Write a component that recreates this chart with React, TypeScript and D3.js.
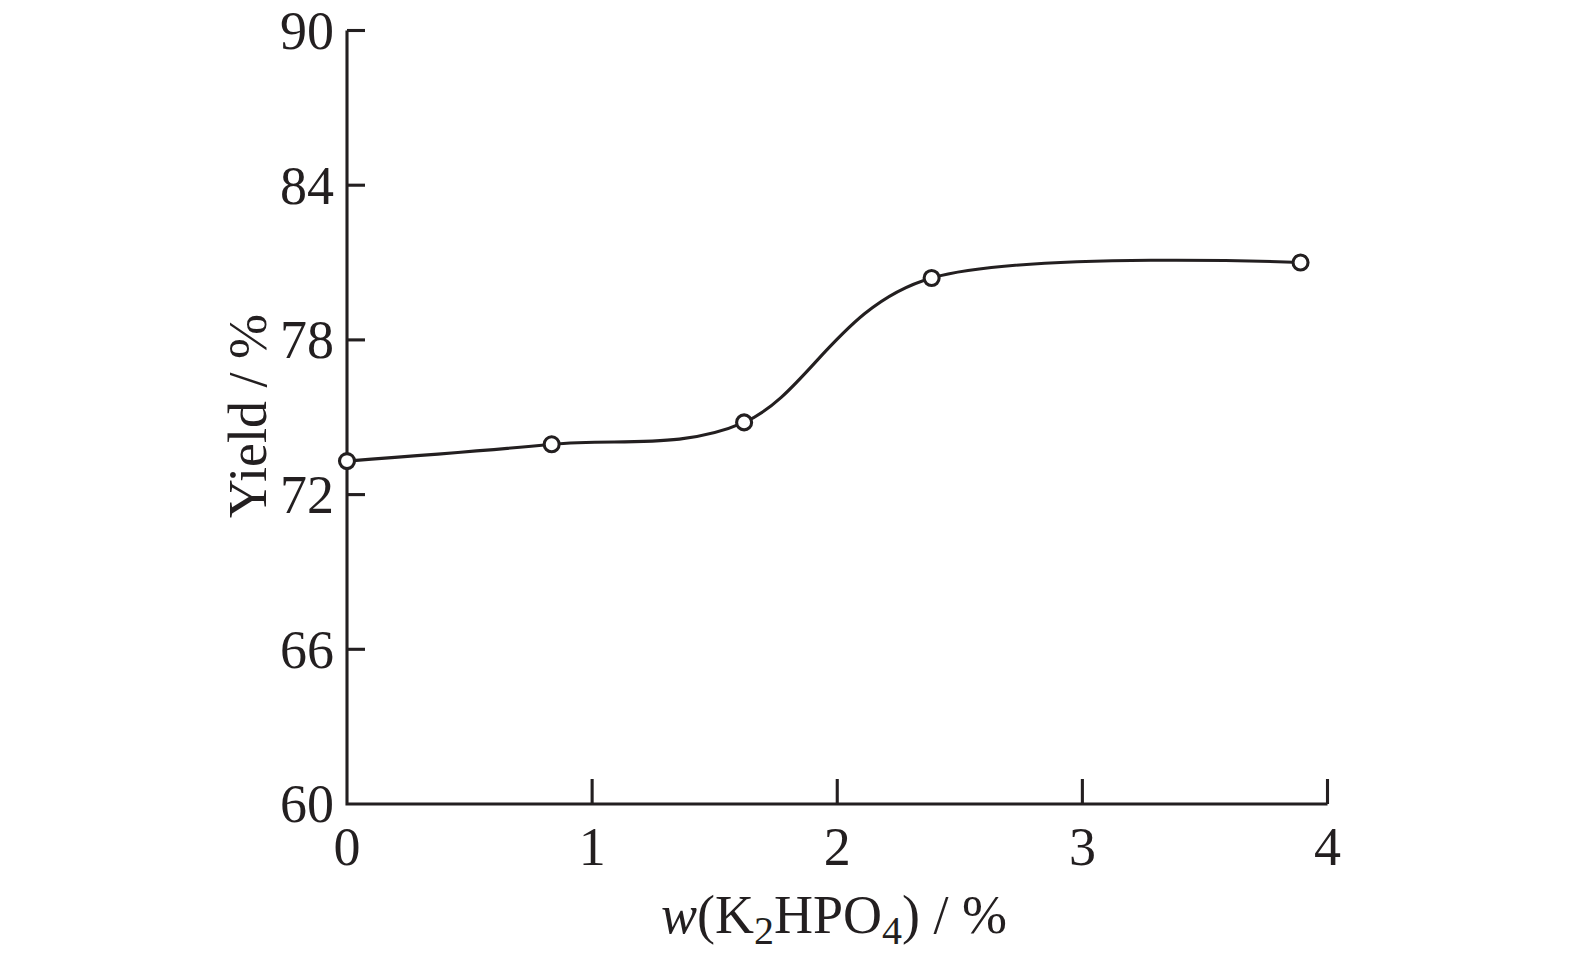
import { useEffect, useRef } from 'react'
import * as d3 from 'd3'

// K2HPO4 mass fraction (%) vs yield (%)
const xValues = [0, 0.835, 1.62, 2.385, 3.89]
const yieldValues = [73.3, 73.95, 74.8, 80.4, 81.0]
const xTicks = [0, 1, 2, 3, 4]
const yTicks = [60, 66, 72, 78, 84, 90]

const W = 1575
const H = 972
const INK = '#231f20'
const FONT = '"Liberation Serif", "Times New Roman", serif'
const SW = 3.1

export default function App() {
  const ref = useRef<SVGSVGElement | null>(null)

  useEffect(() => {
    const svg = d3.select(ref.current)
    svg.selectAll('*').remove()
    svg.attr('width', W).attr('height', H)

    const x = d3.scaleLinear().domain([0, 4]).range([347, 1327.5])
    const y = d3.scaleLinear().domain([60, 90]).range([804, 30.5])

    const g = svg.append('g')

    // axes frame (left + bottom)
    g.append('path')
      .attr('d', `M${x(0)},${y(90)}V${y(60)}H${x(4)}`)
      .attr('fill', 'none')
      .attr('stroke', INK)
      .attr('stroke-width', SW)

    // y ticks point inward (right)
    yTicks.forEach((t) => {
      if (t !== 60) {
        g.append('line')
          .attr('x1', x(0))
          .attr('x2', x(0) + 18)
          .attr('y1', y(t))
          .attr('y2', y(t))
          .attr('stroke', INK)
          .attr('stroke-width', SW)
      }
      g.append('text')
        .attr('x', x(0) - 13)
        .attr('y', y(t))
        .attr('dy', '0.34em')
        .attr('text-anchor', 'end')
        .attr('font-family', FONT)
        .attr('font-size', 54)
        .attr('fill', INK)
        .text(t)
    })

    // x ticks point inward (up)
    xTicks.forEach((t) => {
      if (t !== 0) {
        g.append('line')
          .attr('x1', x(t))
          .attr('x2', x(t))
          .attr('y1', y(60))
          .attr('y2', y(60) - 25)
          .attr('stroke', INK)
          .attr('stroke-width', SW)
      }
      g.append('text')
        .attr('x', x(t))
        .attr('y', 865)
        .attr('text-anchor', 'middle')
        .attr('font-family', FONT)
        .attr('font-size', 54)
        .attr('fill', INK)
        .text(t)
    })

    // x axis title: w(K2HPO4) / %
    const xt = g.append('text')
      .attr('x', 834)
      .attr('y', 933)
      .attr('text-anchor', 'middle')
      .attr('font-family', FONT)
      .attr('font-size', 54)
      .attr('fill', INK)
    xt.append('tspan').attr('font-style', 'italic').text('w')
    xt.append('tspan').text('(K')
    xt.append('tspan').attr('font-size', 40).attr('dy', 11).text('2')
    xt.append('tspan').attr('dy', -11).text('HPO')
    xt.append('tspan').attr('font-size', 40).attr('dy', 11).text('4')
    xt.append('tspan').attr('dy', -11).text(') / %')

    // y axis title
    g.append('text')
      .attr('transform', `translate(266,416) rotate(-90)`)
      .attr('text-anchor', 'middle')
      .attr('font-family', FONT)
      .attr('font-size', 54)
      .attr('fill', INK)
      .text('Yield / %')

    const pts = xValues.map((v, i) => [v, yieldValues[i]] as [number, number])

    const line = d3
      .line<[number, number]>()
      .x((d) => x(d[0]))
      .y((d) => y(d[1]))
      .curve(d3.curveCardinal.tension(0))

    g.append('path')
      .datum(pts)
      .attr('d', line)
      .attr('fill', 'none')
      .attr('stroke', INK)
      .attr('stroke-width', SW)

    g.append('g')
      .selectAll('circle')
      .data(pts)
      .enter()
      .append('circle')
      .attr('cx', (d) => x(d[0]))
      .attr('cy', (d) => y(d[1]))
      .attr('r', 7.5)
      .attr('fill', '#fff')
      .attr('stroke', INK)
      .attr('stroke-width', SW)
  }, [])

  return <svg ref={ref} style={{ position: 'absolute', left: 0, top: 0, background: '#fff' }} />
}
